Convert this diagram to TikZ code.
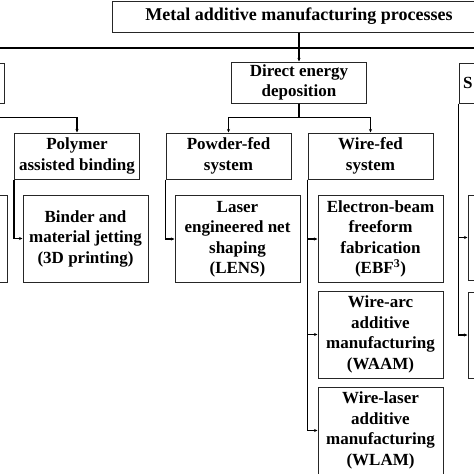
\documentclass[tikz,border=0pt]{standalone}
\usepackage{fontspec}
\setmainfont{Liberation Serif}
\usetikzlibrary{arrows.meta}

\begin{document}
\begin{tikzpicture}[x=1pt, y=-1pt]
        % ================= 样式定义 =================
        \tikzset{
            % 标准方框
            procbox/.style={rectangle, draw=black!85, line width=1pt, fill=white, inner sep=2pt, align=center, font=\fontsize{17}{20.5}\selectfont\bfseries, minimum width=125pt},
            % 两行方框
            twobox/.style={procbox, minimum height=46pt},
            % 四行方框
            fourbox/.style={procbox, minimum height=87pt},
            % 箭头连线
            link/.style={line width=1.2pt, black, -{Stealth[length=3.5pt, width=3pt]}}
        }
        \useasboundingbox (0,0) rectangle (474,474);
        \clip (0,0) rectangle (474,474);

        % ================= 顶层与第一层 =================
        \node[procbox, minimum width=374pt, minimum height=31pt, font=\fontsize{18}{20}\selectfont\bfseries] (top) at (299,16.5) {Metal additive manufacturing processes};
        \node[procbox, minimum width=135pt, minimum height=41pt] (ded) at (299,82.5) {Direct energy\\deposition};
        \node[procbox, minimum height=40pt] (lbox) at (-58.5,83) {};   % 左侧 (画面外)
        \node[procbox, minimum height=40pt, text width=117pt, align=left, inner xsep=4pt] (sl) at (521.5,83) {S}; % 右侧

        % ================= 第二层 =================
        \node[twobox] (poly) at (77,156) {Polymer\\assisted binding};
        \node[twobox] (powder) at (228.5,156) {Powder-fed\\system};
        \node[twobox] (wire) at (370.5,156) {Wire-fed\\system};

        % ================= 第三层 =================
        \node[fourbox] (lbox2) at (-55.5,238.5) {};
        \node[fourbox] (binder) at (85.5,238.5) {Binder and\\material jetting\\(3D printing)};
        \node[fourbox] (lens) at (237.5,239) {Laser\\engineered net\\shaping\\(LENS)};
        \node[fourbox] (ebf) at (380.5,239) {Electron-beam\\freeform\\fabrication\\(EBF\textsuperscript{3})};
        \node[fourbox] (waam) at (380.5,334.5) {Wire-arc\\additive\\manufacturing\\(WAAM)};
        \node[fourbox] (wlam) at (380.5,430.5) {Wire-laser\\additive\\manufacturing\\(WLAM)};
        \node[procbox, minimum height=85pt] (slc1) at (530.5,237.5) {};
        \node[procbox, minimum height=86pt] (slc2) at (530.5,335) {};

        % ================= 连线 =================
        \coordinate (bus) at (299,48);
        \draw[link] (top) -- (ded);
        \draw[link] (bus) -| (lbox.north);
        \draw[link] (bus) -| (sl.north);

        \draw[link] (lbox.south) -- ++(0,14) -| (poly.north);
        \draw[link] (ded.south) -- ++(0,14) -| (powder.north);
        \draw[link] (ded.south) -- ++(0,14) -| (wire.north);

        \draw[link] (poly.south west) |- (binder.west);
        \draw[link] (powder.south west) |- (lens.west);
        \draw[link] (wire.south west) |- (ebf.west);
        \draw[link] (wire.south west) |- (waam.west);
        \draw[link] (wire.south west) |- (wlam.west);
        \draw[link] (sl.south west) |- (slc1.west);
        \draw[link] (sl.south west) |- (slc2.west);

    \end{tikzpicture}
\end{document}
